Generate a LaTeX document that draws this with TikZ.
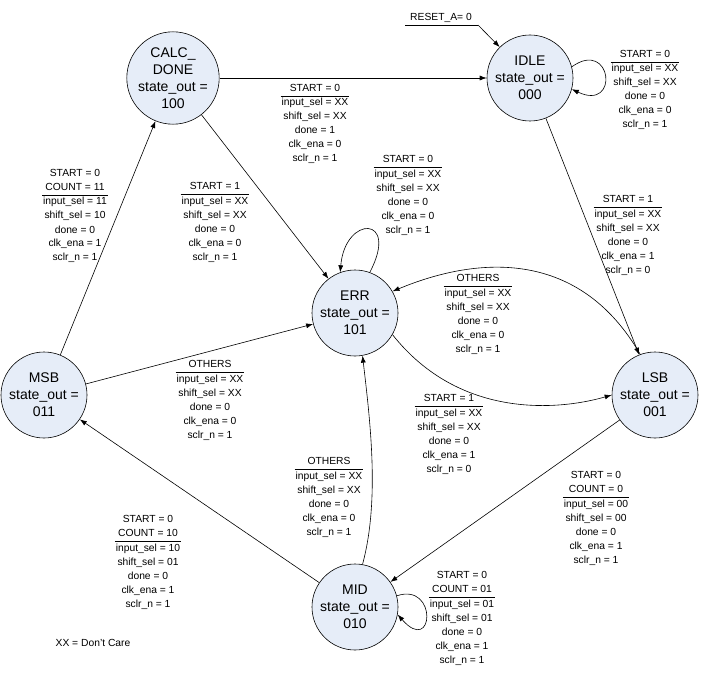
\documentclass[tikz,border=0pt]{standalone}
\usepackage{fontspec}
\setmainfont{Liberation Sans}
\usetikzlibrary{arrows.meta}
\newcommand{\lbl}[2]{{\fontsize{10.3}{14}\selectfont\setlength{\tabcolsep}{1pt}\begin{tabular}{c}#1\\\hline #2\end{tabular}}}
\tikzset{st/.style={circle,draw,semithick,fill={rgb,255:red,230;green,237;blue,248},minimum size=86pt,inner sep=0pt,align=center,font=\fontsize{14}{17}\selectfont},
ar/.style={-{Latex[length=7pt,width=5pt]},semithick},
lb/.style={inner sep=0pt}}
\begin{document}
\begin{tikzpicture}[x=1pt,y=-1pt]
\useasboundingbox (0,0) rectangle (706,679);
\node[st] (calc) at (173,78) {CALC\_\\DONE\\state\_out =\\100};
\node[st] (idle) at (530,78) {IDLE\\state\_out =\\000};
\node[st] (err) at (355,313) {ERR\\state\_out =\\101};
\node[st] (msb) at (44,395) {MSB\\state\_out =\\011};
\node[st] (lsb) at (655,395) {LSB\\state\_out =\\001};
\node[st] (mid) at (355,607) {MID\\state\_out =\\010};
\coordinate (rs) at (405,25);
\coordinate (rs2) at (478,25);
\node[lb,anchor=south] (rst) at (441,23) {\fontsize{10.3}{14}\selectfont RESET\_A= 0};
\draw[semithick] (rs) -- (rs2);
\draw[ar] (rs2) -- (idle);
\draw[ar] (calc) -- (idle);
\draw[ar] (idle.15) .. controls (612,38) and (620,112) .. (idle.-15);
\draw[ar] (idle) -- (lsb);
\draw[ar] (calc) -- (err);
\draw[ar] (err.70) .. controls (400,215) and (345,215) .. (err.110);
\draw[ar] (lsb.110) .. controls (580,250) and (480,255) .. (err.30);
\draw[ar] (err.-30) .. controls (460,420) and (560,410) .. (lsb.180);
\draw[ar] (lsb) -- (mid);
\draw[ar] (mid.15) .. controls (438,582) and (434,656) .. (mid.-10);
\draw[ar] (mid.80) .. controls (380,500) and (370,420) .. (err.-80);
\draw[ar] (mid) -- (msb);
\draw[ar] (msb) -- (err);
\draw[ar] (msb) -- (calc);
\node[lb] (l1) at (315,124) {\lbl{START = 0}{input\_sel = XX\\shift\_sel = XX\\done = 1\\clk\_ena = 0\\sclr\_n = 1}};
\node[lb] (l2) at (645,90) {\lbl{START = 0}{input\_sel = XX\\shift\_sel = XX\\done = 0\\clk\_ena = 0\\sclr\_n = 1}};
\node[lb] (l3) at (628,235) {\lbl{START = 1}{input\_sel = XX\\shift\_sel = XX\\done = 0\\clk\_ena = 1\\sclr\_n = 0}};
\node[lb] (l4) at (215,222) {\lbl{START = 1}{input\_sel = XX\\shift\_sel = XX\\done = 0\\clk\_ena = 0\\sclr\_n = 1}};
\node[lb] (l5) at (408,195) {\lbl{START = 0}{input\_sel = XX\\shift\_sel = XX\\done = 0\\clk\_ena = 0\\sclr\_n = 1}};
\node[lb] (l6) at (478,314) {\lbl{OTHERS}{input\_sel = XX\\shift\_sel = XX\\done = 0\\clk\_ena = 0\\sclr\_n = 1}};
\node[lb] (l7) at (449,434) {\lbl{START = 1}{input\_sel = XX\\shift\_sel = XX\\done = 0\\clk\_ena = 1\\sclr\_n = 0}};
\node[lb] (l8) at (596,518) {\lbl{START = 0\\COUNT = 0}{input\_sel = 00\\shift\_sel = 00\\done = 0\\clk\_ena = 1\\sclr\_n = 1}};
\node[lb] (l9) at (462,618) {\lbl{START = 0\\COUNT = 01}{input\_sel = 01\\shift\_sel = 01\\done = 0\\clk\_ena = 1\\sclr\_n = 1}};
\node[lb] (l10) at (329,497) {\lbl{OTHERS}{input\_sel = XX\\shift\_sel = XX\\done = 0\\clk\_ena = 0\\sclr\_n = 1}};
\node[lb] (l11) at (148,562) {\lbl{START = 0\\COUNT = 10}{input\_sel = 10\\shift\_sel = 01\\done = 0\\clk\_ena = 1\\sclr\_n = 1}};
\node[lb] (l12) at (210,400) {\lbl{OTHERS}{input\_sel = XX\\shift\_sel = XX\\done = 0\\clk\_ena = 0\\sclr\_n = 1}};
\node[lb] (l13) at (75,216) {\lbl{START = 0\\COUNT = 11}{input\_sel = 11\\shift\_sel = 10\\done = 0\\clk\_ena = 1\\sclr\_n = 1}};
\node[lb] (xx) at (93,643) {\fontsize{10.3}{14}\selectfont XX = Don't Care};
\end{tikzpicture}
\end{document}
